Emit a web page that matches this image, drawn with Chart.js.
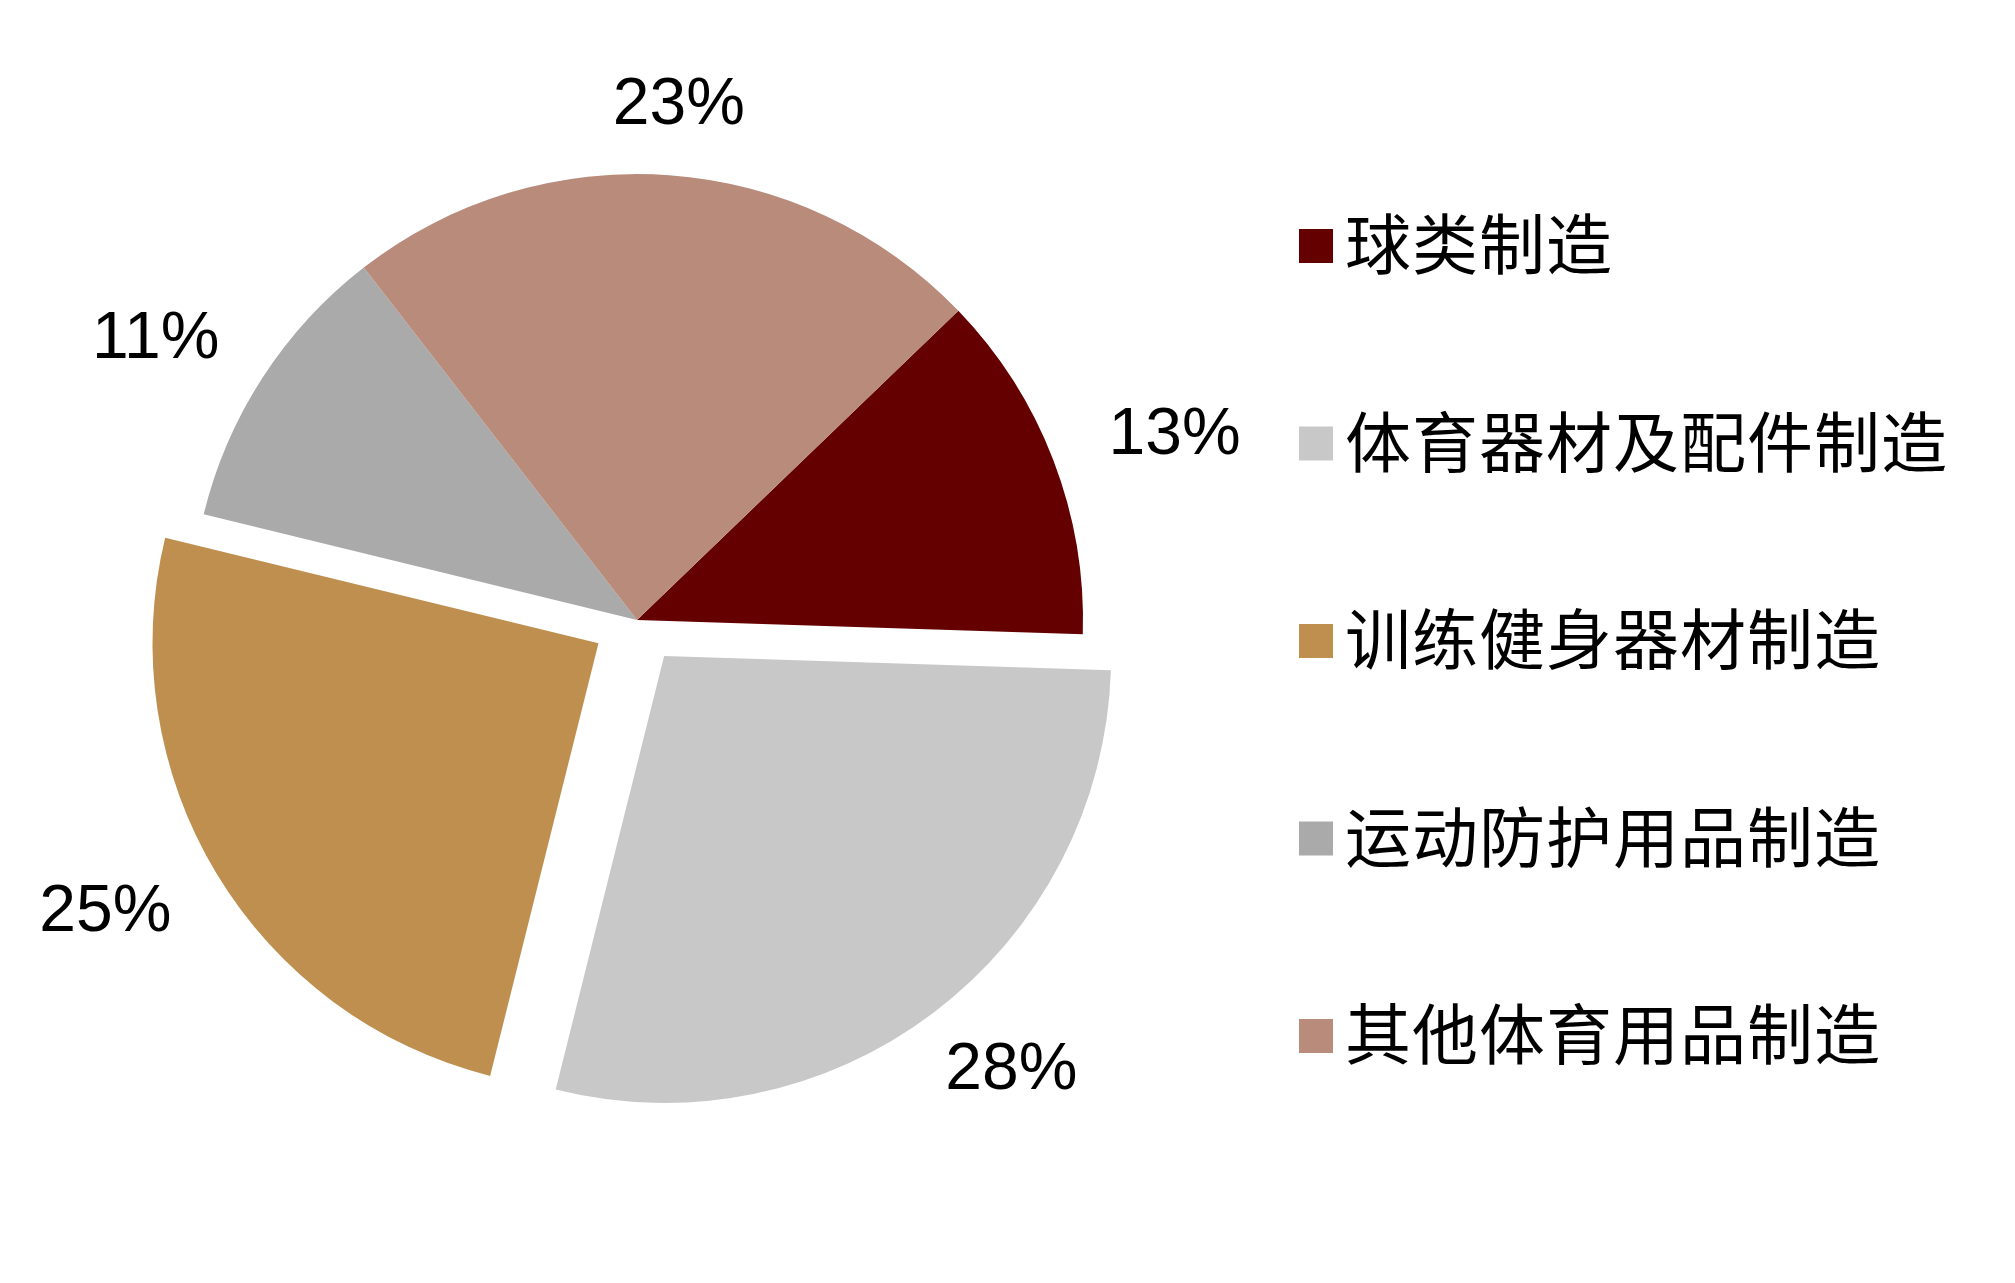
<!DOCTYPE html>
<html>
<head>
<meta charset="utf-8">
<script src="https://cdn.jsdelivr.net/npm/chart.js@4.4.1/dist/chart.umd.min.js"></script>
<style>
    html, body { margin: 0; padding: 0; background: #fff; }
    #wrap { width: 2015px; height: 1283px; position: relative; }
</style>
</head>
<body>
<div id="wrap"><canvas id="pie"></canvas></div>
<script>
// data
const categories = ["球类制造", "体育器材及配件制造", "训练健身器材制造", "运动防护用品制造", "其他体育用品制造"];
const shares = [12.7, 28.4, 24.9, 10.7, 23.3];
const explodedSlices = [1, 2];

const sliceColors = ["#650000", "#C8C8C8", "#BF8F4F", "#AAAAAA", "#B88B7B"];

// chart.js v4 arcs move by offset/4
const OFFSET_OPT = 180;

const pctLabels = {
    id: "pctLabels",
    afterDatasetsDraw(chart) {
        const ctx = chart.ctx;
        const meta = chart.getDatasetMeta(0);
        const total = shares.reduce((a, b) => a + b, 0);
        ctx.save();
        ctx.font = "66px 'Liberation Sans', Arial, sans-serif";
        ctx.fillStyle = "#000";
        ctx.textAlign = "center";
        ctx.textBaseline = "middle";
        meta.data.forEach((arc, i) => {
            const p = arc.getProps(["x", "y", "startAngle", "endAngle", "outerRadius"], true);
            const mid = (p.startAngle + p.endAngle) / 2;
            const off = (arc.options.offset || 0) / 4;
            const txt = Math.round(shares[i] / total * 100) + "%";
            const w = ctx.measureText(txt).width;
            const ux = Math.cos(mid), uy = Math.sin(mid);
            const r = p.outerRadius + off + 39;
            const x = p.x + ux * r + ux * (w / 2 + 25);
            const y = p.y + uy * r + uy * 33;
            ctx.fillText(txt, x, y + 2);
        });
        ctx.restore();
    }
};

const sideLegend = {
    id: "sideLegend",
    afterDraw(chart) {
        const ctx = chart.ctx;
        const colors = chart.data.datasets[0].backgroundColor;
        ctx.save();
        ctx.font = "66px 'Noto Sans CJK SC', sans-serif";
        ctx.textBaseline = "middle";
        ctx.textAlign = "left";
        ctx.letterSpacing = "1px";
        chart.data.labels.forEach((lab, i) => {
            const cy = 246 + i * 197.5;
            ctx.fillStyle = colors[i];
            ctx.fillRect(1299, cy - 17, 34, 34);
            ctx.fillStyle = "#000";
            ctx.fillText(lab, 1345, cy - 2);
        });
        ctx.restore();
    }
};

const ctx = document.getElementById("pie").getContext("2d");
new Chart(ctx, {
    type: "pie",
    data: {
        labels: categories,
        datasets: [{
            data: shares,
            backgroundColor: sliceColors,
            borderWidth: 0,
            offset: shares.map((v, i) => explodedSlices.includes(i) ? OFFSET_OPT : 0)
        }]
    },
    options: {
        responsive: true,
        maintainAspectRatio: false,
        devicePixelRatio: 1,
        animation: false,
        rotation: 46.1,
        radius: 446,
        layout: { padding: { left: 0, right: 741, top: 0, bottom: 43 } },
        plugins: {
            legend: { display: false },
            tooltip: { enabled: false }
        }
    },
    plugins: [pctLabels, sideLegend]
});
</script>
</body>
</html>
